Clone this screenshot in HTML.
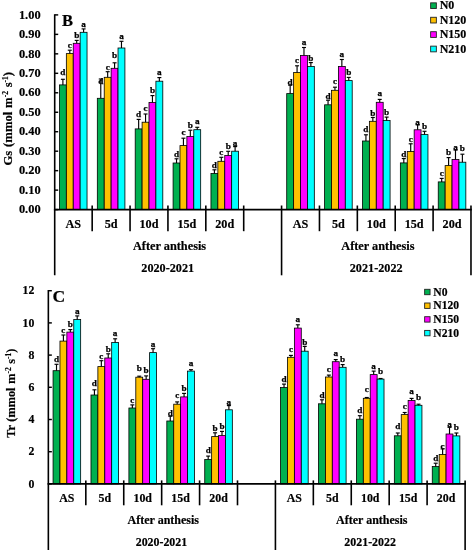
<!DOCTYPE html>
<html><head><meta charset="utf-8"><title>Gs and Tr after anthesis</title>
<style>
html,body{margin:0;padding:0;background:#fff;}
body{width:474px;height:550px;overflow:hidden;}
svg{display:block;font-family:"Liberation Serif","DejaVu Serif",serif;font-weight:bold;fill:#000;}
text{stroke:#000;stroke-width:.18px;}
text.l{stroke-width:.25px;}
</style></head><body>
<svg width="474" height="550" viewBox="0 0 474 550">
<rect x="0" y="0" width="474" height="550" fill="#fff"/>
<rect x="59.44" y="84.90" width="6.90" height="124.70" fill="#00b050" stroke="#000" stroke-width="0.8"/>
<line x1="62.89" y1="84.90" x2="62.89" y2="79.30" stroke="#000" stroke-width="1.15" />
<line x1="60.89" y1="79.30" x2="64.89" y2="79.30" stroke="#000" stroke-width="1.15" />
<text x="62.89" y="75.10" font-size="9.2" text-anchor="middle" class="l">d</text>
<rect x="66.34" y="53.60" width="6.90" height="156.00" fill="#ffc000" stroke="#000" stroke-width="0.8"/>
<line x1="69.79" y1="53.60" x2="69.79" y2="50.20" stroke="#000" stroke-width="1.15" />
<line x1="67.79" y1="50.20" x2="71.79" y2="50.20" stroke="#000" stroke-width="1.15" />
<text x="69.79" y="48.00" font-size="9.2" text-anchor="middle" class="l">c</text>
<rect x="73.24" y="43.30" width="6.90" height="166.30" fill="#ff00ff" stroke="#000" stroke-width="0.8"/>
<line x1="76.69" y1="43.30" x2="76.69" y2="40.40" stroke="#000" stroke-width="1.15" />
<line x1="74.69" y1="40.40" x2="78.69" y2="40.40" stroke="#000" stroke-width="1.15" />
<text x="76.69" y="38.00" font-size="9.2" text-anchor="middle" class="l">b</text>
<rect x="80.14" y="32.30" width="6.90" height="177.30" fill="#00ffff" stroke="#000" stroke-width="0.8"/>
<line x1="83.59" y1="32.30" x2="83.59" y2="28.90" stroke="#000" stroke-width="1.15" />
<line x1="81.59" y1="28.90" x2="85.59" y2="28.90" stroke="#000" stroke-width="1.15" />
<text x="83.59" y="26.90" font-size="9.2" text-anchor="middle" class="l">a</text>
<rect x="97.32" y="98.30" width="6.90" height="111.30" fill="#00b050" stroke="#000" stroke-width="0.8"/>
<line x1="100.77" y1="98.30" x2="100.77" y2="79.00" stroke="#000" stroke-width="1.15" />
<line x1="98.77" y1="79.00" x2="102.77" y2="79.00" stroke="#000" stroke-width="1.15" />
<text x="100.77" y="84.40" font-size="9.2" text-anchor="middle" class="l">d</text>
<rect x="104.22" y="77.30" width="6.90" height="132.30" fill="#ffc000" stroke="#000" stroke-width="0.8"/>
<line x1="107.67" y1="77.30" x2="107.67" y2="71.70" stroke="#000" stroke-width="1.15" />
<line x1="105.67" y1="71.70" x2="109.67" y2="71.70" stroke="#000" stroke-width="1.15" />
<text x="107.67" y="69.50" font-size="9.2" text-anchor="middle" class="l">c</text>
<rect x="111.12" y="68.30" width="6.90" height="141.30" fill="#ff00ff" stroke="#000" stroke-width="0.8"/>
<line x1="114.57" y1="68.30" x2="114.57" y2="62.80" stroke="#000" stroke-width="1.15" />
<line x1="112.57" y1="62.80" x2="116.57" y2="62.80" stroke="#000" stroke-width="1.15" />
<text x="114.57" y="58.20" font-size="9.2" text-anchor="middle" class="l">b</text>
<rect x="118.02" y="48.00" width="6.90" height="161.60" fill="#00ffff" stroke="#000" stroke-width="0.8"/>
<line x1="121.47" y1="48.00" x2="121.47" y2="41.30" stroke="#000" stroke-width="1.15" />
<line x1="119.47" y1="41.30" x2="123.47" y2="41.30" stroke="#000" stroke-width="1.15" />
<text x="121.47" y="38.70" font-size="9.2" text-anchor="middle" class="l">a</text>
<rect x="135.20" y="128.90" width="6.90" height="80.70" fill="#00b050" stroke="#000" stroke-width="0.8"/>
<line x1="138.65" y1="128.90" x2="138.65" y2="119.40" stroke="#000" stroke-width="1.15" />
<line x1="136.65" y1="119.40" x2="140.65" y2="119.40" stroke="#000" stroke-width="1.15" />
<text x="138.65" y="116.60" font-size="9.2" text-anchor="middle" class="l">d</text>
<rect x="142.10" y="122.20" width="6.90" height="87.40" fill="#ffc000" stroke="#000" stroke-width="0.8"/>
<line x1="145.55" y1="122.20" x2="145.55" y2="114.00" stroke="#000" stroke-width="1.15" />
<line x1="143.55" y1="114.00" x2="147.55" y2="114.00" stroke="#000" stroke-width="1.15" />
<text x="145.55" y="110.80" font-size="9.2" text-anchor="middle" class="l">c</text>
<rect x="149.00" y="102.50" width="6.90" height="107.10" fill="#ff00ff" stroke="#000" stroke-width="0.8"/>
<line x1="152.45" y1="102.50" x2="152.45" y2="95.60" stroke="#000" stroke-width="1.15" />
<line x1="150.45" y1="95.60" x2="154.45" y2="95.60" stroke="#000" stroke-width="1.15" />
<text x="152.45" y="93.00" font-size="9.2" text-anchor="middle" class="l">b</text>
<rect x="155.90" y="81.20" width="6.90" height="128.40" fill="#00ffff" stroke="#000" stroke-width="0.8"/>
<line x1="159.35" y1="81.20" x2="159.35" y2="77.60" stroke="#000" stroke-width="1.15" />
<line x1="157.35" y1="77.60" x2="161.35" y2="77.60" stroke="#000" stroke-width="1.15" />
<text x="159.35" y="75.10" font-size="9.2" text-anchor="middle" class="l">a</text>
<rect x="173.08" y="163.00" width="6.90" height="46.60" fill="#00b050" stroke="#000" stroke-width="0.8"/>
<line x1="176.53" y1="163.00" x2="176.53" y2="158.80" stroke="#000" stroke-width="1.15" />
<line x1="174.53" y1="158.80" x2="178.53" y2="158.80" stroke="#000" stroke-width="1.15" />
<text x="176.53" y="156.80" font-size="9.2" text-anchor="middle" class="l">d</text>
<rect x="179.98" y="145.60" width="6.90" height="64.00" fill="#ffc000" stroke="#000" stroke-width="0.8"/>
<line x1="183.43" y1="145.60" x2="183.43" y2="138.20" stroke="#000" stroke-width="1.15" />
<line x1="181.43" y1="138.20" x2="185.43" y2="138.20" stroke="#000" stroke-width="1.15" />
<text x="183.43" y="135.20" font-size="9.2" text-anchor="middle" class="l">c</text>
<rect x="186.88" y="136.50" width="6.90" height="73.10" fill="#ff00ff" stroke="#000" stroke-width="0.8"/>
<line x1="190.33" y1="136.50" x2="190.33" y2="130.20" stroke="#000" stroke-width="1.15" />
<line x1="188.33" y1="130.20" x2="192.33" y2="130.20" stroke="#000" stroke-width="1.15" />
<text x="190.33" y="127.90" font-size="9.2" text-anchor="middle" class="l">b</text>
<rect x="193.78" y="129.70" width="6.90" height="79.90" fill="#00ffff" stroke="#000" stroke-width="0.8"/>
<line x1="197.23" y1="129.70" x2="197.23" y2="127.30" stroke="#000" stroke-width="1.15" />
<line x1="195.23" y1="127.30" x2="199.23" y2="127.30" stroke="#000" stroke-width="1.15" />
<text x="197.23" y="124.30" font-size="9.2" text-anchor="middle" class="l">a</text>
<rect x="210.96" y="173.50" width="6.90" height="36.10" fill="#00b050" stroke="#000" stroke-width="0.8"/>
<line x1="214.41" y1="173.50" x2="214.41" y2="169.80" stroke="#000" stroke-width="1.15" />
<line x1="212.41" y1="169.80" x2="216.41" y2="169.80" stroke="#000" stroke-width="1.15" />
<text x="214.41" y="167.80" font-size="9.2" text-anchor="middle" class="l">d</text>
<rect x="217.86" y="161.30" width="6.90" height="48.30" fill="#ffc000" stroke="#000" stroke-width="0.8"/>
<line x1="221.31" y1="161.30" x2="221.31" y2="157.30" stroke="#000" stroke-width="1.15" />
<line x1="219.31" y1="157.30" x2="223.31" y2="157.30" stroke="#000" stroke-width="1.15" />
<text x="221.31" y="155.30" font-size="9.2" text-anchor="middle" class="l">c</text>
<rect x="224.76" y="155.50" width="6.90" height="54.10" fill="#ff00ff" stroke="#000" stroke-width="0.8"/>
<line x1="228.21" y1="155.50" x2="228.21" y2="151.30" stroke="#000" stroke-width="1.15" />
<line x1="226.21" y1="151.30" x2="230.21" y2="151.30" stroke="#000" stroke-width="1.15" />
<text x="228.21" y="149.30" font-size="9.2" text-anchor="middle" class="l">b</text>
<rect x="231.66" y="151.20" width="6.90" height="58.40" fill="#00ffff" stroke="#000" stroke-width="0.8"/>
<line x1="235.11" y1="151.20" x2="235.11" y2="146.60" stroke="#000" stroke-width="1.15" />
<line x1="233.11" y1="146.60" x2="237.11" y2="146.60" stroke="#000" stroke-width="1.15" />
<text x="235.11" y="145.90" font-size="9.2" text-anchor="middle" class="l">a</text>
<rect x="286.72" y="93.60" width="6.90" height="116.00" fill="#00b050" stroke="#000" stroke-width="0.8"/>
<line x1="290.17" y1="93.60" x2="290.17" y2="85.20" stroke="#000" stroke-width="1.15" />
<line x1="288.17" y1="85.20" x2="292.17" y2="85.20" stroke="#000" stroke-width="1.15" />
<text x="290.17" y="85.20" font-size="9.2" text-anchor="middle" class="l">d</text>
<rect x="293.62" y="72.50" width="6.90" height="137.10" fill="#ffc000" stroke="#000" stroke-width="0.8"/>
<line x1="297.07" y1="72.50" x2="297.07" y2="65.80" stroke="#000" stroke-width="1.15" />
<line x1="295.07" y1="65.80" x2="299.07" y2="65.80" stroke="#000" stroke-width="1.15" />
<text x="297.07" y="63.00" font-size="9.2" text-anchor="middle" class="l">c</text>
<rect x="300.52" y="55.40" width="6.90" height="154.20" fill="#ff00ff" stroke="#000" stroke-width="0.8"/>
<line x1="303.97" y1="55.40" x2="303.97" y2="47.50" stroke="#000" stroke-width="1.15" />
<line x1="301.97" y1="47.50" x2="305.97" y2="47.50" stroke="#000" stroke-width="1.15" />
<text x="303.97" y="44.80" font-size="9.2" text-anchor="middle" class="l">a</text>
<rect x="307.42" y="66.40" width="6.90" height="143.20" fill="#00ffff" stroke="#000" stroke-width="0.8"/>
<line x1="310.87" y1="66.40" x2="310.87" y2="62.60" stroke="#000" stroke-width="1.15" />
<line x1="308.87" y1="62.60" x2="312.87" y2="62.60" stroke="#000" stroke-width="1.15" />
<text x="310.87" y="60.50" font-size="9.2" text-anchor="middle" class="l">b</text>
<rect x="324.60" y="104.80" width="6.90" height="104.80" fill="#00b050" stroke="#000" stroke-width="0.8"/>
<line x1="328.05" y1="104.80" x2="328.05" y2="100.20" stroke="#000" stroke-width="1.15" />
<line x1="326.05" y1="100.20" x2="330.05" y2="100.20" stroke="#000" stroke-width="1.15" />
<text x="328.05" y="99.30" font-size="9.2" text-anchor="middle" class="l">d</text>
<rect x="331.50" y="90.30" width="6.90" height="119.30" fill="#ffc000" stroke="#000" stroke-width="0.8"/>
<line x1="334.95" y1="90.30" x2="334.95" y2="87.20" stroke="#000" stroke-width="1.15" />
<line x1="332.95" y1="87.20" x2="336.95" y2="87.20" stroke="#000" stroke-width="1.15" />
<text x="334.95" y="84.40" font-size="9.2" text-anchor="middle" class="l">c</text>
<rect x="338.40" y="66.40" width="6.90" height="143.20" fill="#ff00ff" stroke="#000" stroke-width="0.8"/>
<line x1="341.85" y1="66.40" x2="341.85" y2="59.50" stroke="#000" stroke-width="1.15" />
<line x1="339.85" y1="59.50" x2="343.85" y2="59.50" stroke="#000" stroke-width="1.15" />
<text x="341.85" y="57.20" font-size="9.2" text-anchor="middle" class="l">a</text>
<rect x="345.30" y="80.60" width="6.90" height="129.00" fill="#00ffff" stroke="#000" stroke-width="0.8"/>
<line x1="348.75" y1="80.60" x2="348.75" y2="77.40" stroke="#000" stroke-width="1.15" />
<line x1="346.75" y1="77.40" x2="350.75" y2="77.40" stroke="#000" stroke-width="1.15" />
<text x="348.75" y="74.60" font-size="9.2" text-anchor="middle" class="l">b</text>
<rect x="362.48" y="141.00" width="6.90" height="68.60" fill="#00b050" stroke="#000" stroke-width="0.8"/>
<line x1="365.93" y1="141.00" x2="365.93" y2="134.80" stroke="#000" stroke-width="1.15" />
<line x1="363.93" y1="134.80" x2="367.93" y2="134.80" stroke="#000" stroke-width="1.15" />
<text x="365.93" y="132.20" font-size="9.2" text-anchor="middle" class="l">d</text>
<rect x="369.38" y="121.30" width="6.90" height="88.30" fill="#ffc000" stroke="#000" stroke-width="0.8"/>
<line x1="372.83" y1="121.30" x2="372.83" y2="117.50" stroke="#000" stroke-width="1.15" />
<line x1="370.83" y1="117.50" x2="374.83" y2="117.50" stroke="#000" stroke-width="1.15" />
<text x="372.83" y="115.60" font-size="9.2" text-anchor="middle" class="l">b</text>
<rect x="376.28" y="102.30" width="6.90" height="107.30" fill="#ff00ff" stroke="#000" stroke-width="0.8"/>
<line x1="379.73" y1="102.30" x2="379.73" y2="99.40" stroke="#000" stroke-width="1.15" />
<line x1="377.73" y1="99.40" x2="381.73" y2="99.40" stroke="#000" stroke-width="1.15" />
<text x="379.73" y="95.90" font-size="9.2" text-anchor="middle" class="l">a</text>
<rect x="383.18" y="120.40" width="6.90" height="89.20" fill="#00ffff" stroke="#000" stroke-width="0.8"/>
<line x1="386.63" y1="120.40" x2="386.63" y2="117.10" stroke="#000" stroke-width="1.15" />
<line x1="384.63" y1="117.10" x2="388.63" y2="117.10" stroke="#000" stroke-width="1.15" />
<text x="386.63" y="114.60" font-size="9.2" text-anchor="middle" class="l">b</text>
<rect x="400.36" y="162.90" width="6.90" height="46.70" fill="#00b050" stroke="#000" stroke-width="0.8"/>
<line x1="403.81" y1="162.90" x2="403.81" y2="158.60" stroke="#000" stroke-width="1.15" />
<line x1="401.81" y1="158.60" x2="405.81" y2="158.60" stroke="#000" stroke-width="1.15" />
<text x="403.81" y="156.80" font-size="9.2" text-anchor="middle" class="l">d</text>
<rect x="407.26" y="151.40" width="6.90" height="58.20" fill="#ffc000" stroke="#000" stroke-width="0.8"/>
<line x1="410.71" y1="151.40" x2="410.71" y2="143.80" stroke="#000" stroke-width="1.15" />
<line x1="408.71" y1="143.80" x2="412.71" y2="143.80" stroke="#000" stroke-width="1.15" />
<text x="410.71" y="141.50" font-size="9.2" text-anchor="middle" class="l">c</text>
<rect x="414.16" y="129.80" width="6.90" height="79.80" fill="#ff00ff" stroke="#000" stroke-width="0.8"/>
<line x1="417.61" y1="129.80" x2="417.61" y2="124.80" stroke="#000" stroke-width="1.15" />
<line x1="415.61" y1="124.80" x2="419.61" y2="124.80" stroke="#000" stroke-width="1.15" />
<text x="417.61" y="124.80" font-size="9.2" text-anchor="middle" class="l">a</text>
<rect x="421.06" y="134.60" width="6.90" height="75.00" fill="#00ffff" stroke="#000" stroke-width="0.8"/>
<line x1="424.51" y1="134.60" x2="424.51" y2="131.30" stroke="#000" stroke-width="1.15" />
<line x1="422.51" y1="131.30" x2="426.51" y2="131.30" stroke="#000" stroke-width="1.15" />
<text x="424.51" y="128.80" font-size="9.2" text-anchor="middle" class="l">b</text>
<rect x="438.24" y="181.90" width="6.90" height="27.70" fill="#00b050" stroke="#000" stroke-width="0.8"/>
<line x1="441.69" y1="181.90" x2="441.69" y2="178.40" stroke="#000" stroke-width="1.15" />
<line x1="439.69" y1="178.40" x2="443.69" y2="178.40" stroke="#000" stroke-width="1.15" />
<text x="441.69" y="176.20" font-size="9.2" text-anchor="middle" class="l">c</text>
<rect x="445.14" y="165.60" width="6.90" height="44.00" fill="#ffc000" stroke="#000" stroke-width="0.8"/>
<line x1="448.59" y1="165.60" x2="448.59" y2="157.60" stroke="#000" stroke-width="1.15" />
<line x1="446.59" y1="157.60" x2="450.59" y2="157.60" stroke="#000" stroke-width="1.15" />
<text x="448.59" y="155.10" font-size="9.2" text-anchor="middle" class="l">b</text>
<rect x="452.04" y="159.50" width="6.90" height="50.10" fill="#ff00ff" stroke="#000" stroke-width="0.8"/>
<line x1="455.49" y1="159.50" x2="455.49" y2="150.00" stroke="#000" stroke-width="1.15" />
<line x1="453.49" y1="150.00" x2="457.49" y2="150.00" stroke="#000" stroke-width="1.15" />
<text x="455.49" y="150.00" font-size="9.2" text-anchor="middle" class="l">a</text>
<rect x="458.94" y="162.20" width="6.90" height="47.40" fill="#00ffff" stroke="#000" stroke-width="0.8"/>
<line x1="462.39" y1="162.20" x2="462.39" y2="154.20" stroke="#000" stroke-width="1.15" />
<line x1="460.39" y1="154.20" x2="464.39" y2="154.20" stroke="#000" stroke-width="1.15" />
<text x="462.39" y="151.30" font-size="9.2" text-anchor="middle" class="l">b</text>
<line x1="54.70" y1="14.20" x2="54.70" y2="275.30" stroke="#000" stroke-width="1.6" />
<line x1="53.90" y1="209.60" x2="471.78" y2="209.60" stroke="#000" stroke-width="1.7" />
<line x1="54.70" y1="14.90" x2="58.20" y2="14.90" stroke="#000" stroke-width="1.45" />
<line x1="54.70" y1="34.37" x2="58.20" y2="34.37" stroke="#000" stroke-width="1.45" />
<line x1="54.70" y1="53.84" x2="58.20" y2="53.84" stroke="#000" stroke-width="1.45" />
<line x1="54.70" y1="73.31" x2="58.20" y2="73.31" stroke="#000" stroke-width="1.45" />
<line x1="54.70" y1="92.78" x2="58.20" y2="92.78" stroke="#000" stroke-width="1.45" />
<line x1="54.70" y1="112.25" x2="58.20" y2="112.25" stroke="#000" stroke-width="1.45" />
<line x1="54.70" y1="131.72" x2="58.20" y2="131.72" stroke="#000" stroke-width="1.45" />
<line x1="54.70" y1="151.19" x2="58.20" y2="151.19" stroke="#000" stroke-width="1.45" />
<line x1="54.70" y1="170.66" x2="58.20" y2="170.66" stroke="#000" stroke-width="1.45" />
<line x1="54.70" y1="190.13" x2="58.20" y2="190.13" stroke="#000" stroke-width="1.45" />
<line x1="54.70" y1="209.60" x2="58.20" y2="209.60" stroke="#000" stroke-width="1.45" />
<text x="40.60" y="18.60" font-size="12.4" text-anchor="end" >1.00</text>
<text x="40.60" y="38.07" font-size="12.4" text-anchor="end" >0.90</text>
<text x="40.60" y="57.54" font-size="12.4" text-anchor="end" >0.80</text>
<text x="40.60" y="77.01" font-size="12.4" text-anchor="end" >0.70</text>
<text x="40.60" y="96.48" font-size="12.4" text-anchor="end" >0.60</text>
<text x="40.60" y="115.95" font-size="12.4" text-anchor="end" >0.50</text>
<text x="40.60" y="135.42" font-size="12.4" text-anchor="end" >0.40</text>
<text x="40.60" y="154.89" font-size="12.4" text-anchor="end" >0.30</text>
<text x="40.60" y="174.36" font-size="12.4" text-anchor="end" >0.20</text>
<text x="40.60" y="193.83" font-size="12.4" text-anchor="end" >0.10</text>
<text x="40.60" y="213.30" font-size="12.4" text-anchor="end" >0.00</text>
<line x1="92.18" y1="205.50" x2="92.18" y2="231.20" stroke="#000" stroke-width="1.6" />
<line x1="130.06" y1="205.50" x2="130.06" y2="231.20" stroke="#000" stroke-width="1.6" />
<line x1="167.94" y1="205.50" x2="167.94" y2="231.20" stroke="#000" stroke-width="1.6" />
<line x1="205.82" y1="205.50" x2="205.82" y2="231.20" stroke="#000" stroke-width="1.6" />
<line x1="243.70" y1="205.50" x2="243.70" y2="231.20" stroke="#000" stroke-width="1.6" />
<line x1="281.58" y1="205.50" x2="281.58" y2="275.30" stroke="#000" stroke-width="1.6" />
<line x1="319.46" y1="205.50" x2="319.46" y2="231.20" stroke="#000" stroke-width="1.6" />
<line x1="357.34" y1="205.50" x2="357.34" y2="231.20" stroke="#000" stroke-width="1.6" />
<line x1="395.22" y1="205.50" x2="395.22" y2="231.20" stroke="#000" stroke-width="1.6" />
<line x1="433.10" y1="205.50" x2="433.10" y2="231.20" stroke="#000" stroke-width="1.6" />
<line x1="470.98" y1="205.50" x2="470.98" y2="275.30" stroke="#000" stroke-width="1.6" />
<text x="73.24" y="228.00" font-size="12.2" text-anchor="middle" >AS</text>
<text x="111.12" y="228.00" font-size="12.2" text-anchor="middle" >5d</text>
<text x="149.00" y="228.00" font-size="12.2" text-anchor="middle" >10d</text>
<text x="186.88" y="228.00" font-size="12.2" text-anchor="middle" >15d</text>
<text x="224.76" y="228.00" font-size="12.2" text-anchor="middle" >20d</text>
<text x="300.52" y="228.00" font-size="12.2" text-anchor="middle" >AS</text>
<text x="338.40" y="228.00" font-size="12.2" text-anchor="middle" >5d</text>
<text x="376.28" y="228.00" font-size="12.2" text-anchor="middle" >10d</text>
<text x="414.16" y="228.00" font-size="12.2" text-anchor="middle" >15d</text>
<text x="452.04" y="228.00" font-size="12.2" text-anchor="middle" >20d</text>
<text x="169.54" y="250.30" font-size="12.299999999999999" text-anchor="middle" >After anthesis</text>
<text x="377.88" y="250.30" font-size="12.299999999999999" text-anchor="middle" >After anthesis</text>
<text x="167.74" y="272.20" font-size="12.2" text-anchor="middle" >2020-2021</text>
<text x="376.18" y="272.20" font-size="12.2" text-anchor="middle" >2021-2022</text>
<text x="62.10" y="26.00" font-size="16.5" text-anchor="start" >B</text>
<text transform="translate(12.4,118.7) rotate(-90)" font-size="12.7" text-anchor="middle" word-spacing="0.6">Gs (mmol m<tspan dy="-4" font-size="7.5">-2</tspan><tspan dy="4"> s</tspan><tspan dy="-4" font-size="7.5">-1</tspan><tspan dy="4">)</tspan></text>
<rect x="53.06" y="370.70" width="6.90" height="113.20" fill="#00b050" stroke="#000" stroke-width="0.8"/>
<line x1="56.51" y1="370.70" x2="56.51" y2="364.30" stroke="#000" stroke-width="1.15" />
<line x1="54.51" y1="364.30" x2="58.51" y2="364.30" stroke="#000" stroke-width="1.15" />
<text x="56.51" y="361.90" font-size="9.2" text-anchor="middle" class="l">d</text>
<rect x="59.96" y="341.10" width="6.90" height="142.80" fill="#ffc000" stroke="#000" stroke-width="0.8"/>
<line x1="63.41" y1="341.10" x2="63.41" y2="335.00" stroke="#000" stroke-width="1.15" />
<line x1="61.41" y1="335.00" x2="65.41" y2="335.00" stroke="#000" stroke-width="1.15" />
<text x="63.41" y="332.50" font-size="9.2" text-anchor="middle" class="l">c</text>
<rect x="66.86" y="332.10" width="6.90" height="151.80" fill="#ff00ff" stroke="#000" stroke-width="0.8"/>
<line x1="70.31" y1="332.10" x2="70.31" y2="329.60" stroke="#000" stroke-width="1.15" />
<line x1="68.31" y1="329.60" x2="72.31" y2="329.60" stroke="#000" stroke-width="1.15" />
<text x="70.31" y="326.80" font-size="9.2" text-anchor="middle" class="l">b</text>
<rect x="73.76" y="319.50" width="6.90" height="164.40" fill="#00ffff" stroke="#000" stroke-width="0.8"/>
<line x1="77.21" y1="319.50" x2="77.21" y2="315.90" stroke="#000" stroke-width="1.15" />
<line x1="75.21" y1="315.90" x2="79.21" y2="315.90" stroke="#000" stroke-width="1.15" />
<text x="77.21" y="314.00" font-size="9.2" text-anchor="middle" class="l">a</text>
<rect x="90.98" y="395.00" width="6.90" height="88.90" fill="#00b050" stroke="#000" stroke-width="0.8"/>
<line x1="94.43" y1="395.00" x2="94.43" y2="389.80" stroke="#000" stroke-width="1.15" />
<line x1="92.43" y1="389.80" x2="96.43" y2="389.80" stroke="#000" stroke-width="1.15" />
<text x="94.43" y="386.40" font-size="9.2" text-anchor="middle" class="l">d</text>
<rect x="97.88" y="366.60" width="6.90" height="117.30" fill="#ffc000" stroke="#000" stroke-width="0.8"/>
<line x1="101.33" y1="366.60" x2="101.33" y2="360.70" stroke="#000" stroke-width="1.15" />
<line x1="99.33" y1="360.70" x2="103.33" y2="360.70" stroke="#000" stroke-width="1.15" />
<text x="101.33" y="359.00" font-size="9.2" text-anchor="middle" class="l">c</text>
<rect x="104.78" y="358.00" width="6.90" height="125.90" fill="#ff00ff" stroke="#000" stroke-width="0.8"/>
<line x1="108.23" y1="358.00" x2="108.23" y2="353.80" stroke="#000" stroke-width="1.15" />
<line x1="106.23" y1="353.80" x2="110.23" y2="353.80" stroke="#000" stroke-width="1.15" />
<text x="108.23" y="351.60" font-size="9.2" text-anchor="middle" class="l">b</text>
<rect x="111.68" y="342.40" width="6.90" height="141.50" fill="#00ffff" stroke="#000" stroke-width="0.8"/>
<line x1="115.13" y1="342.40" x2="115.13" y2="338.80" stroke="#000" stroke-width="1.15" />
<line x1="113.13" y1="338.80" x2="117.13" y2="338.80" stroke="#000" stroke-width="1.15" />
<text x="115.13" y="336.30" font-size="9.2" text-anchor="middle" class="l">a</text>
<rect x="128.90" y="408.00" width="6.90" height="75.90" fill="#00b050" stroke="#000" stroke-width="0.8"/>
<line x1="132.35" y1="408.00" x2="132.35" y2="404.90" stroke="#000" stroke-width="1.15" />
<line x1="130.35" y1="404.90" x2="134.35" y2="404.90" stroke="#000" stroke-width="1.15" />
<text x="132.35" y="402.60" font-size="9.2" text-anchor="middle" class="l">c</text>
<rect x="135.80" y="377.20" width="6.90" height="106.70" fill="#ffc000" stroke="#000" stroke-width="0.8"/>
<line x1="139.25" y1="377.20" x2="139.25" y2="376.20" stroke="#000" stroke-width="1.15" />
<line x1="137.25" y1="376.20" x2="141.25" y2="376.20" stroke="#000" stroke-width="1.15" />
<text x="139.25" y="371.20" font-size="9.2" text-anchor="middle" class="l">b</text>
<rect x="142.70" y="379.30" width="6.90" height="104.60" fill="#ff00ff" stroke="#000" stroke-width="0.8"/>
<line x1="146.15" y1="379.30" x2="146.15" y2="375.90" stroke="#000" stroke-width="1.15" />
<line x1="144.15" y1="375.90" x2="148.15" y2="375.90" stroke="#000" stroke-width="1.15" />
<text x="146.15" y="373.00" font-size="9.2" text-anchor="middle" class="l">b</text>
<rect x="149.60" y="352.60" width="6.90" height="131.30" fill="#00ffff" stroke="#000" stroke-width="0.8"/>
<line x1="153.05" y1="352.60" x2="153.05" y2="348.70" stroke="#000" stroke-width="1.15" />
<line x1="151.05" y1="348.70" x2="155.05" y2="348.70" stroke="#000" stroke-width="1.15" />
<text x="153.05" y="346.80" font-size="9.2" text-anchor="middle" class="l">a</text>
<rect x="166.82" y="421.00" width="6.90" height="62.90" fill="#00b050" stroke="#000" stroke-width="0.8"/>
<line x1="170.27" y1="421.00" x2="170.27" y2="416.20" stroke="#000" stroke-width="1.15" />
<line x1="168.27" y1="416.20" x2="172.27" y2="416.20" stroke="#000" stroke-width="1.15" />
<text x="170.27" y="416.20" font-size="9.2" text-anchor="middle" class="l">d</text>
<rect x="173.72" y="404.20" width="6.90" height="79.70" fill="#ffc000" stroke="#000" stroke-width="0.8"/>
<line x1="177.17" y1="404.20" x2="177.17" y2="401.90" stroke="#000" stroke-width="1.15" />
<line x1="175.17" y1="401.90" x2="179.17" y2="401.90" stroke="#000" stroke-width="1.15" />
<text x="177.17" y="398.40" font-size="9.2" text-anchor="middle" class="l">c</text>
<rect x="180.62" y="396.90" width="6.90" height="87.00" fill="#ff00ff" stroke="#000" stroke-width="0.8"/>
<line x1="184.07" y1="396.90" x2="184.07" y2="393.40" stroke="#000" stroke-width="1.15" />
<line x1="182.07" y1="393.40" x2="186.07" y2="393.40" stroke="#000" stroke-width="1.15" />
<text x="184.07" y="391.20" font-size="9.2" text-anchor="middle" class="l">b</text>
<rect x="187.52" y="371.10" width="6.90" height="112.80" fill="#00ffff" stroke="#000" stroke-width="0.8"/>
<line x1="190.97" y1="371.10" x2="190.97" y2="369.70" stroke="#000" stroke-width="1.15" />
<line x1="188.97" y1="369.70" x2="192.97" y2="369.70" stroke="#000" stroke-width="1.15" />
<text x="190.97" y="366.30" font-size="9.2" text-anchor="middle" class="l">a</text>
<rect x="204.74" y="459.50" width="6.90" height="24.40" fill="#00b050" stroke="#000" stroke-width="0.8"/>
<line x1="208.19" y1="459.50" x2="208.19" y2="456.10" stroke="#000" stroke-width="1.15" />
<line x1="206.19" y1="456.10" x2="210.19" y2="456.10" stroke="#000" stroke-width="1.15" />
<text x="208.19" y="453.40" font-size="9.2" text-anchor="middle" class="l">d</text>
<rect x="211.64" y="436.60" width="6.90" height="47.30" fill="#ffc000" stroke="#000" stroke-width="0.8"/>
<line x1="215.09" y1="436.60" x2="215.09" y2="432.80" stroke="#000" stroke-width="1.15" />
<line x1="213.09" y1="432.80" x2="217.09" y2="432.80" stroke="#000" stroke-width="1.15" />
<text x="215.09" y="431.40" font-size="9.2" text-anchor="middle" class="l">b</text>
<rect x="218.54" y="435.60" width="6.90" height="48.30" fill="#ff00ff" stroke="#000" stroke-width="0.8"/>
<line x1="221.99" y1="435.60" x2="221.99" y2="431.40" stroke="#000" stroke-width="1.15" />
<line x1="219.99" y1="431.40" x2="223.99" y2="431.40" stroke="#000" stroke-width="1.15" />
<text x="221.99" y="429.30" font-size="9.2" text-anchor="middle" class="l">b</text>
<rect x="225.44" y="409.80" width="6.90" height="74.10" fill="#00ffff" stroke="#000" stroke-width="0.8"/>
<line x1="228.89" y1="409.80" x2="228.89" y2="405.60" stroke="#000" stroke-width="1.15" />
<line x1="226.89" y1="405.60" x2="230.89" y2="405.60" stroke="#000" stroke-width="1.15" />
<text x="228.89" y="404.70" font-size="9.2" text-anchor="middle" class="l">a</text>
<rect x="280.58" y="387.50" width="6.90" height="96.40" fill="#00b050" stroke="#000" stroke-width="0.8"/>
<line x1="284.03" y1="387.50" x2="284.03" y2="384.10" stroke="#000" stroke-width="1.15" />
<line x1="282.03" y1="384.10" x2="286.03" y2="384.10" stroke="#000" stroke-width="1.15" />
<text x="284.03" y="381.80" font-size="9.2" text-anchor="middle" class="l">d</text>
<rect x="287.48" y="357.30" width="6.90" height="126.60" fill="#ffc000" stroke="#000" stroke-width="0.8"/>
<line x1="290.93" y1="357.30" x2="290.93" y2="355.40" stroke="#000" stroke-width="1.15" />
<line x1="288.93" y1="355.40" x2="292.93" y2="355.40" stroke="#000" stroke-width="1.15" />
<text x="290.93" y="352.00" font-size="9.2" text-anchor="middle" class="l">c</text>
<rect x="294.38" y="328.10" width="6.90" height="155.80" fill="#ff00ff" stroke="#000" stroke-width="0.8"/>
<line x1="297.83" y1="328.10" x2="297.83" y2="324.80" stroke="#000" stroke-width="1.15" />
<line x1="295.83" y1="324.80" x2="299.83" y2="324.80" stroke="#000" stroke-width="1.15" />
<text x="297.83" y="322.00" font-size="9.2" text-anchor="middle" class="l">a</text>
<rect x="301.28" y="351.20" width="6.90" height="132.70" fill="#00ffff" stroke="#000" stroke-width="0.8"/>
<line x1="304.73" y1="351.20" x2="304.73" y2="346.40" stroke="#000" stroke-width="1.15" />
<line x1="302.73" y1="346.40" x2="306.73" y2="346.40" stroke="#000" stroke-width="1.15" />
<text x="304.73" y="344.90" font-size="9.2" text-anchor="middle" class="l">b</text>
<rect x="318.50" y="403.80" width="6.90" height="80.10" fill="#00b050" stroke="#000" stroke-width="0.8"/>
<line x1="321.95" y1="403.80" x2="321.95" y2="399.80" stroke="#000" stroke-width="1.15" />
<line x1="319.95" y1="399.80" x2="323.95" y2="399.80" stroke="#000" stroke-width="1.15" />
<text x="321.95" y="397.50" font-size="9.2" text-anchor="middle" class="l">d</text>
<rect x="325.40" y="377.00" width="6.90" height="106.90" fill="#ffc000" stroke="#000" stroke-width="0.8"/>
<line x1="328.85" y1="377.00" x2="328.85" y2="375.10" stroke="#000" stroke-width="1.15" />
<line x1="326.85" y1="375.10" x2="330.85" y2="375.10" stroke="#000" stroke-width="1.15" />
<text x="328.85" y="371.70" font-size="9.2" text-anchor="middle" class="l">c</text>
<rect x="332.30" y="361.70" width="6.90" height="122.20" fill="#ff00ff" stroke="#000" stroke-width="0.8"/>
<line x1="335.75" y1="361.70" x2="335.75" y2="359.60" stroke="#000" stroke-width="1.15" />
<line x1="333.75" y1="359.60" x2="337.75" y2="359.60" stroke="#000" stroke-width="1.15" />
<text x="335.75" y="356.00" font-size="9.2" text-anchor="middle" class="l">a</text>
<rect x="339.20" y="367.30" width="6.90" height="116.60" fill="#00ffff" stroke="#000" stroke-width="0.8"/>
<line x1="342.65" y1="367.30" x2="342.65" y2="364.60" stroke="#000" stroke-width="1.15" />
<line x1="340.65" y1="364.60" x2="344.65" y2="364.60" stroke="#000" stroke-width="1.15" />
<text x="342.65" y="362.10" font-size="9.2" text-anchor="middle" class="l">b</text>
<rect x="356.42" y="419.20" width="6.90" height="64.70" fill="#00b050" stroke="#000" stroke-width="0.8"/>
<line x1="359.87" y1="419.20" x2="359.87" y2="415.70" stroke="#000" stroke-width="1.15" />
<line x1="357.87" y1="415.70" x2="361.87" y2="415.70" stroke="#000" stroke-width="1.15" />
<text x="359.87" y="413.40" font-size="9.2" text-anchor="middle" class="l">d</text>
<rect x="363.32" y="398.30" width="6.90" height="85.60" fill="#ffc000" stroke="#000" stroke-width="0.8"/>
<line x1="366.77" y1="398.30" x2="366.77" y2="397.50" stroke="#000" stroke-width="1.15" />
<line x1="364.77" y1="397.50" x2="368.77" y2="397.50" stroke="#000" stroke-width="1.15" />
<text x="366.77" y="392.20" font-size="9.2" text-anchor="middle" class="l">c</text>
<rect x="370.22" y="374.60" width="6.90" height="109.30" fill="#ff00ff" stroke="#000" stroke-width="0.8"/>
<line x1="373.67" y1="374.60" x2="373.67" y2="371.10" stroke="#000" stroke-width="1.15" />
<line x1="371.67" y1="371.10" x2="375.67" y2="371.10" stroke="#000" stroke-width="1.15" />
<text x="373.67" y="368.50" font-size="9.2" text-anchor="middle" class="l">a</text>
<rect x="377.12" y="379.10" width="6.90" height="104.80" fill="#00ffff" stroke="#000" stroke-width="0.8"/>
<line x1="380.57" y1="379.10" x2="380.57" y2="378.50" stroke="#000" stroke-width="1.15" />
<line x1="378.57" y1="378.50" x2="382.57" y2="378.50" stroke="#000" stroke-width="1.15" />
<text x="380.57" y="373.50" font-size="9.2" text-anchor="middle" class="l">b</text>
<rect x="394.34" y="435.80" width="6.90" height="48.10" fill="#00b050" stroke="#000" stroke-width="0.8"/>
<line x1="397.79" y1="435.80" x2="397.79" y2="433.00" stroke="#000" stroke-width="1.15" />
<line x1="395.79" y1="433.00" x2="399.79" y2="433.00" stroke="#000" stroke-width="1.15" />
<text x="397.79" y="429.30" font-size="9.2" text-anchor="middle" class="l">d</text>
<rect x="401.24" y="414.60" width="6.90" height="69.30" fill="#ffc000" stroke="#000" stroke-width="0.8"/>
<line x1="404.69" y1="414.60" x2="404.69" y2="412.50" stroke="#000" stroke-width="1.15" />
<line x1="402.69" y1="412.50" x2="406.69" y2="412.50" stroke="#000" stroke-width="1.15" />
<text x="404.69" y="409.10" font-size="9.2" text-anchor="middle" class="l">c</text>
<rect x="408.14" y="400.50" width="6.90" height="83.40" fill="#ff00ff" stroke="#000" stroke-width="0.8"/>
<line x1="411.59" y1="400.50" x2="411.59" y2="398.40" stroke="#000" stroke-width="1.15" />
<line x1="409.59" y1="398.40" x2="413.59" y2="398.40" stroke="#000" stroke-width="1.15" />
<text x="411.59" y="394.40" font-size="9.2" text-anchor="middle" class="l">a</text>
<rect x="415.04" y="405.30" width="6.90" height="78.60" fill="#00ffff" stroke="#000" stroke-width="0.8"/>
<line x1="418.49" y1="405.30" x2="418.49" y2="404.20" stroke="#000" stroke-width="1.15" />
<line x1="416.49" y1="404.20" x2="420.49" y2="404.20" stroke="#000" stroke-width="1.15" />
<text x="418.49" y="399.60" font-size="9.2" text-anchor="middle" class="l">b</text>
<rect x="432.26" y="466.50" width="6.90" height="17.40" fill="#00b050" stroke="#000" stroke-width="0.8"/>
<line x1="435.71" y1="466.50" x2="435.71" y2="463.20" stroke="#000" stroke-width="1.15" />
<line x1="433.71" y1="463.20" x2="437.71" y2="463.20" stroke="#000" stroke-width="1.15" />
<text x="435.71" y="460.70" font-size="9.2" text-anchor="middle" class="l">d</text>
<rect x="439.16" y="454.50" width="6.90" height="29.40" fill="#ffc000" stroke="#000" stroke-width="0.8"/>
<line x1="442.61" y1="454.50" x2="442.61" y2="448.90" stroke="#000" stroke-width="1.15" />
<line x1="440.61" y1="448.90" x2="444.61" y2="448.90" stroke="#000" stroke-width="1.15" />
<text x="442.61" y="448.90" font-size="9.2" text-anchor="middle" class="l">c</text>
<rect x="446.06" y="434.00" width="6.90" height="49.90" fill="#ff00ff" stroke="#000" stroke-width="0.8"/>
<line x1="449.51" y1="434.00" x2="449.51" y2="427.30" stroke="#000" stroke-width="1.15" />
<line x1="447.51" y1="427.30" x2="451.51" y2="427.30" stroke="#000" stroke-width="1.15" />
<text x="449.51" y="427.30" font-size="9.2" text-anchor="middle" class="l">a</text>
<rect x="452.96" y="435.90" width="6.90" height="48.00" fill="#00ffff" stroke="#000" stroke-width="0.8"/>
<line x1="456.41" y1="435.90" x2="456.41" y2="433.00" stroke="#000" stroke-width="1.15" />
<line x1="454.41" y1="433.00" x2="458.41" y2="433.00" stroke="#000" stroke-width="1.15" />
<text x="456.41" y="430.00" font-size="9.2" text-anchor="middle" class="l">b</text>
<line x1="48.35" y1="290.00" x2="48.35" y2="551.00" stroke="#000" stroke-width="1.6" />
<line x1="47.55" y1="483.90" x2="465.92" y2="483.90" stroke="#000" stroke-width="1.7" />
<line x1="48.35" y1="290.70" x2="51.85" y2="290.70" stroke="#000" stroke-width="1.45" />
<line x1="48.35" y1="322.90" x2="51.85" y2="322.90" stroke="#000" stroke-width="1.45" />
<line x1="48.35" y1="355.10" x2="51.85" y2="355.10" stroke="#000" stroke-width="1.45" />
<line x1="48.35" y1="387.30" x2="51.85" y2="387.30" stroke="#000" stroke-width="1.45" />
<line x1="48.35" y1="419.50" x2="51.85" y2="419.50" stroke="#000" stroke-width="1.45" />
<line x1="48.35" y1="451.70" x2="51.85" y2="451.70" stroke="#000" stroke-width="1.45" />
<line x1="48.35" y1="483.90" x2="51.85" y2="483.90" stroke="#000" stroke-width="1.45" />
<text x="34.40" y="294.40" font-size="11.8" text-anchor="end" >12</text>
<text x="34.40" y="326.60" font-size="11.8" text-anchor="end" >10</text>
<text x="34.40" y="358.80" font-size="11.8" text-anchor="end" >8</text>
<text x="34.40" y="391.00" font-size="11.8" text-anchor="end" >6</text>
<text x="34.40" y="423.20" font-size="11.8" text-anchor="end" >4</text>
<text x="34.40" y="455.40" font-size="11.8" text-anchor="end" >2</text>
<text x="34.40" y="487.60" font-size="11.8" text-anchor="end" >0</text>
<line x1="85.82" y1="480.40" x2="85.82" y2="505.30" stroke="#000" stroke-width="1.6" />
<line x1="123.74" y1="480.40" x2="123.74" y2="505.30" stroke="#000" stroke-width="1.6" />
<line x1="161.66" y1="480.40" x2="161.66" y2="505.30" stroke="#000" stroke-width="1.6" />
<line x1="199.58" y1="480.40" x2="199.58" y2="505.30" stroke="#000" stroke-width="1.6" />
<line x1="237.50" y1="480.40" x2="237.50" y2="505.30" stroke="#000" stroke-width="1.6" />
<line x1="275.42" y1="480.40" x2="275.42" y2="551.00" stroke="#000" stroke-width="1.6" />
<line x1="313.34" y1="480.40" x2="313.34" y2="505.30" stroke="#000" stroke-width="1.6" />
<line x1="351.26" y1="480.40" x2="351.26" y2="505.30" stroke="#000" stroke-width="1.6" />
<line x1="389.18" y1="480.40" x2="389.18" y2="505.30" stroke="#000" stroke-width="1.6" />
<line x1="427.10" y1="480.40" x2="427.10" y2="505.30" stroke="#000" stroke-width="1.6" />
<line x1="465.12" y1="480.40" x2="465.12" y2="551.00" stroke="#000" stroke-width="1.6" />
<text x="66.86" y="502.30" font-size="11.9" text-anchor="middle" >AS</text>
<text x="104.78" y="502.30" font-size="11.9" text-anchor="middle" >5d</text>
<text x="142.70" y="502.30" font-size="11.9" text-anchor="middle" >10d</text>
<text x="180.62" y="502.30" font-size="11.9" text-anchor="middle" >15d</text>
<text x="218.54" y="502.30" font-size="11.9" text-anchor="middle" >20d</text>
<text x="294.38" y="502.30" font-size="11.9" text-anchor="middle" >AS</text>
<text x="332.30" y="502.30" font-size="11.9" text-anchor="middle" >5d</text>
<text x="370.22" y="502.30" font-size="11.9" text-anchor="middle" >10d</text>
<text x="408.14" y="502.30" font-size="11.9" text-anchor="middle" >15d</text>
<text x="446.06" y="502.30" font-size="11.9" text-anchor="middle" >20d</text>
<text x="163.26" y="523.70" font-size="12.0" text-anchor="middle" >After anthesis</text>
<text x="371.82" y="523.70" font-size="12.0" text-anchor="middle" >After anthesis</text>
<text x="161.46" y="545.90" font-size="11.9" text-anchor="middle" >2020-2021</text>
<text x="370.12" y="545.90" font-size="11.9" text-anchor="middle" >2021-2022</text>
<text x="52.60" y="302.40" font-size="17.6" text-anchor="start" >C</text>
<text transform="translate(15.0,393.2) rotate(-90)" font-size="12.3" text-anchor="middle" word-spacing="0.6">Tr (mmol m<tspan dy="-4" font-size="7.5">-2</tspan><tspan dy="4"> s</tspan><tspan dy="-4" font-size="7.5">-1</tspan><tspan dy="4">)</tspan></text>
<rect x="430.65" y="2.85" width="5.70" height="5.70" fill="#00b050" stroke="#222" stroke-width="0.9"/>
<text x="439.70" y="9.40" font-size="12.0" text-anchor="start" >N0</text>
<rect x="430.65" y="17.28" width="5.70" height="5.70" fill="#ffc000" stroke="#222" stroke-width="0.9"/>
<text x="439.70" y="23.83" font-size="12.0" text-anchor="start" >N120</text>
<rect x="430.65" y="31.71" width="5.70" height="5.70" fill="#ff00ff" stroke="#222" stroke-width="0.9"/>
<text x="439.70" y="38.26" font-size="12.0" text-anchor="start" >N150</text>
<rect x="430.65" y="46.14" width="5.70" height="5.70" fill="#00ffff" stroke="#222" stroke-width="0.9"/>
<text x="439.70" y="52.69" font-size="12.0" text-anchor="start" >N210</text>
<rect x="424.65" y="289.30" width="5.40" height="5.40" fill="#00b050" stroke="#222" stroke-width="0.9"/>
<text x="433.30" y="295.70" font-size="11.6" text-anchor="start" >N0</text>
<rect x="424.65" y="303.00" width="5.40" height="5.40" fill="#ffc000" stroke="#222" stroke-width="0.9"/>
<text x="433.30" y="309.40" font-size="11.6" text-anchor="start" >N120</text>
<rect x="424.65" y="316.70" width="5.40" height="5.40" fill="#ff00ff" stroke="#222" stroke-width="0.9"/>
<text x="433.30" y="323.10" font-size="11.6" text-anchor="start" >N150</text>
<rect x="424.65" y="330.40" width="5.40" height="5.40" fill="#00ffff" stroke="#222" stroke-width="0.9"/>
<text x="433.30" y="336.80" font-size="11.6" text-anchor="start" >N210</text>
</svg>
</body></html>
